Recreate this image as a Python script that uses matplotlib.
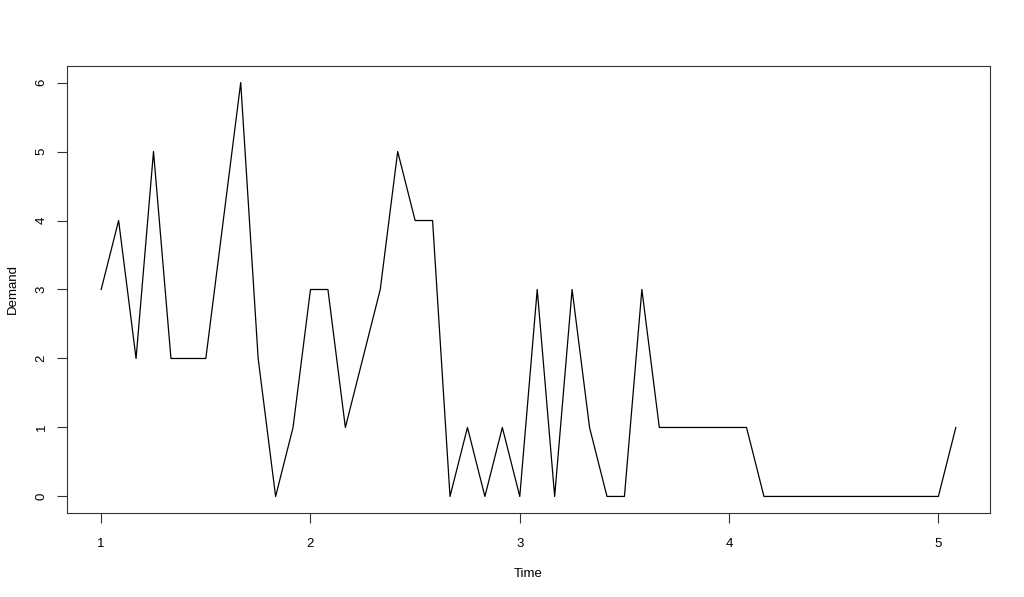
import matplotlib
matplotlib.use("Agg")
import matplotlib.pyplot as plt
import numpy as np

plt.rcParams['font.family'] = ['Liberation Sans', 'DejaVu Sans']

start_year = 1
frequency = 12
demand = [3, 4, 2, 5, 2, 2, 2, 4, 6, 2, 0, 1,
          3, 3, 1, 2, 3, 5, 4, 4, 0, 1, 0, 1,
          0, 3, 0, 3, 1, 0, 0, 3, 1, 1, 1, 1,
          1, 1, 0, 0, 0, 0, 0, 0, 0, 0, 0, 0,
          0, 1]
x_ticks = [1, 2, 3, 4, 5]
y_ticks = [0, 1, 2, 3, 4, 5, 6]

time = start_year + np.arange(len(demand)) / frequency

fig = plt.figure(figsize=(10.24, 5.97), dpi=100)
ax = fig.add_axes([67/1024, 1-513/597, (990-67)/1024, (513-66)/597])
ax.plot(time, demand, color="black", linewidth=0.9)

xr = time[-1] - time[0]
ax.set_xlim(time[0] - 0.04*xr, time[-1] + 0.04*xr)
yr = max(demand) - min(demand)
ax.set_ylim(min(demand) - 0.04*yr, max(demand) + 0.04*yr)

ax.set_xticks(x_ticks)
ax.set_yticks(y_ticks)
ax.set_xticklabels([str(t) for t in x_ticks])
ax.set_yticklabels([str(t) for t in y_ticks], rotation=90, va="center")
ax.tick_params(direction="out", length=7, width=0.8, labelsize=9.5, color="#333333")
ax.tick_params(axis="x", pad=11)
ax.tick_params(axis="y", pad=7)
for s in ax.spines.values():
    s.set_linewidth(0.8)
    s.set_color("#333333")

ax.set_xlabel("Time", fontsize=9.5, labelpad=13)
ax.set_ylabel("Demand", fontsize=9.5, labelpad=12)

fig.savefig("out.png", dpi=100)
